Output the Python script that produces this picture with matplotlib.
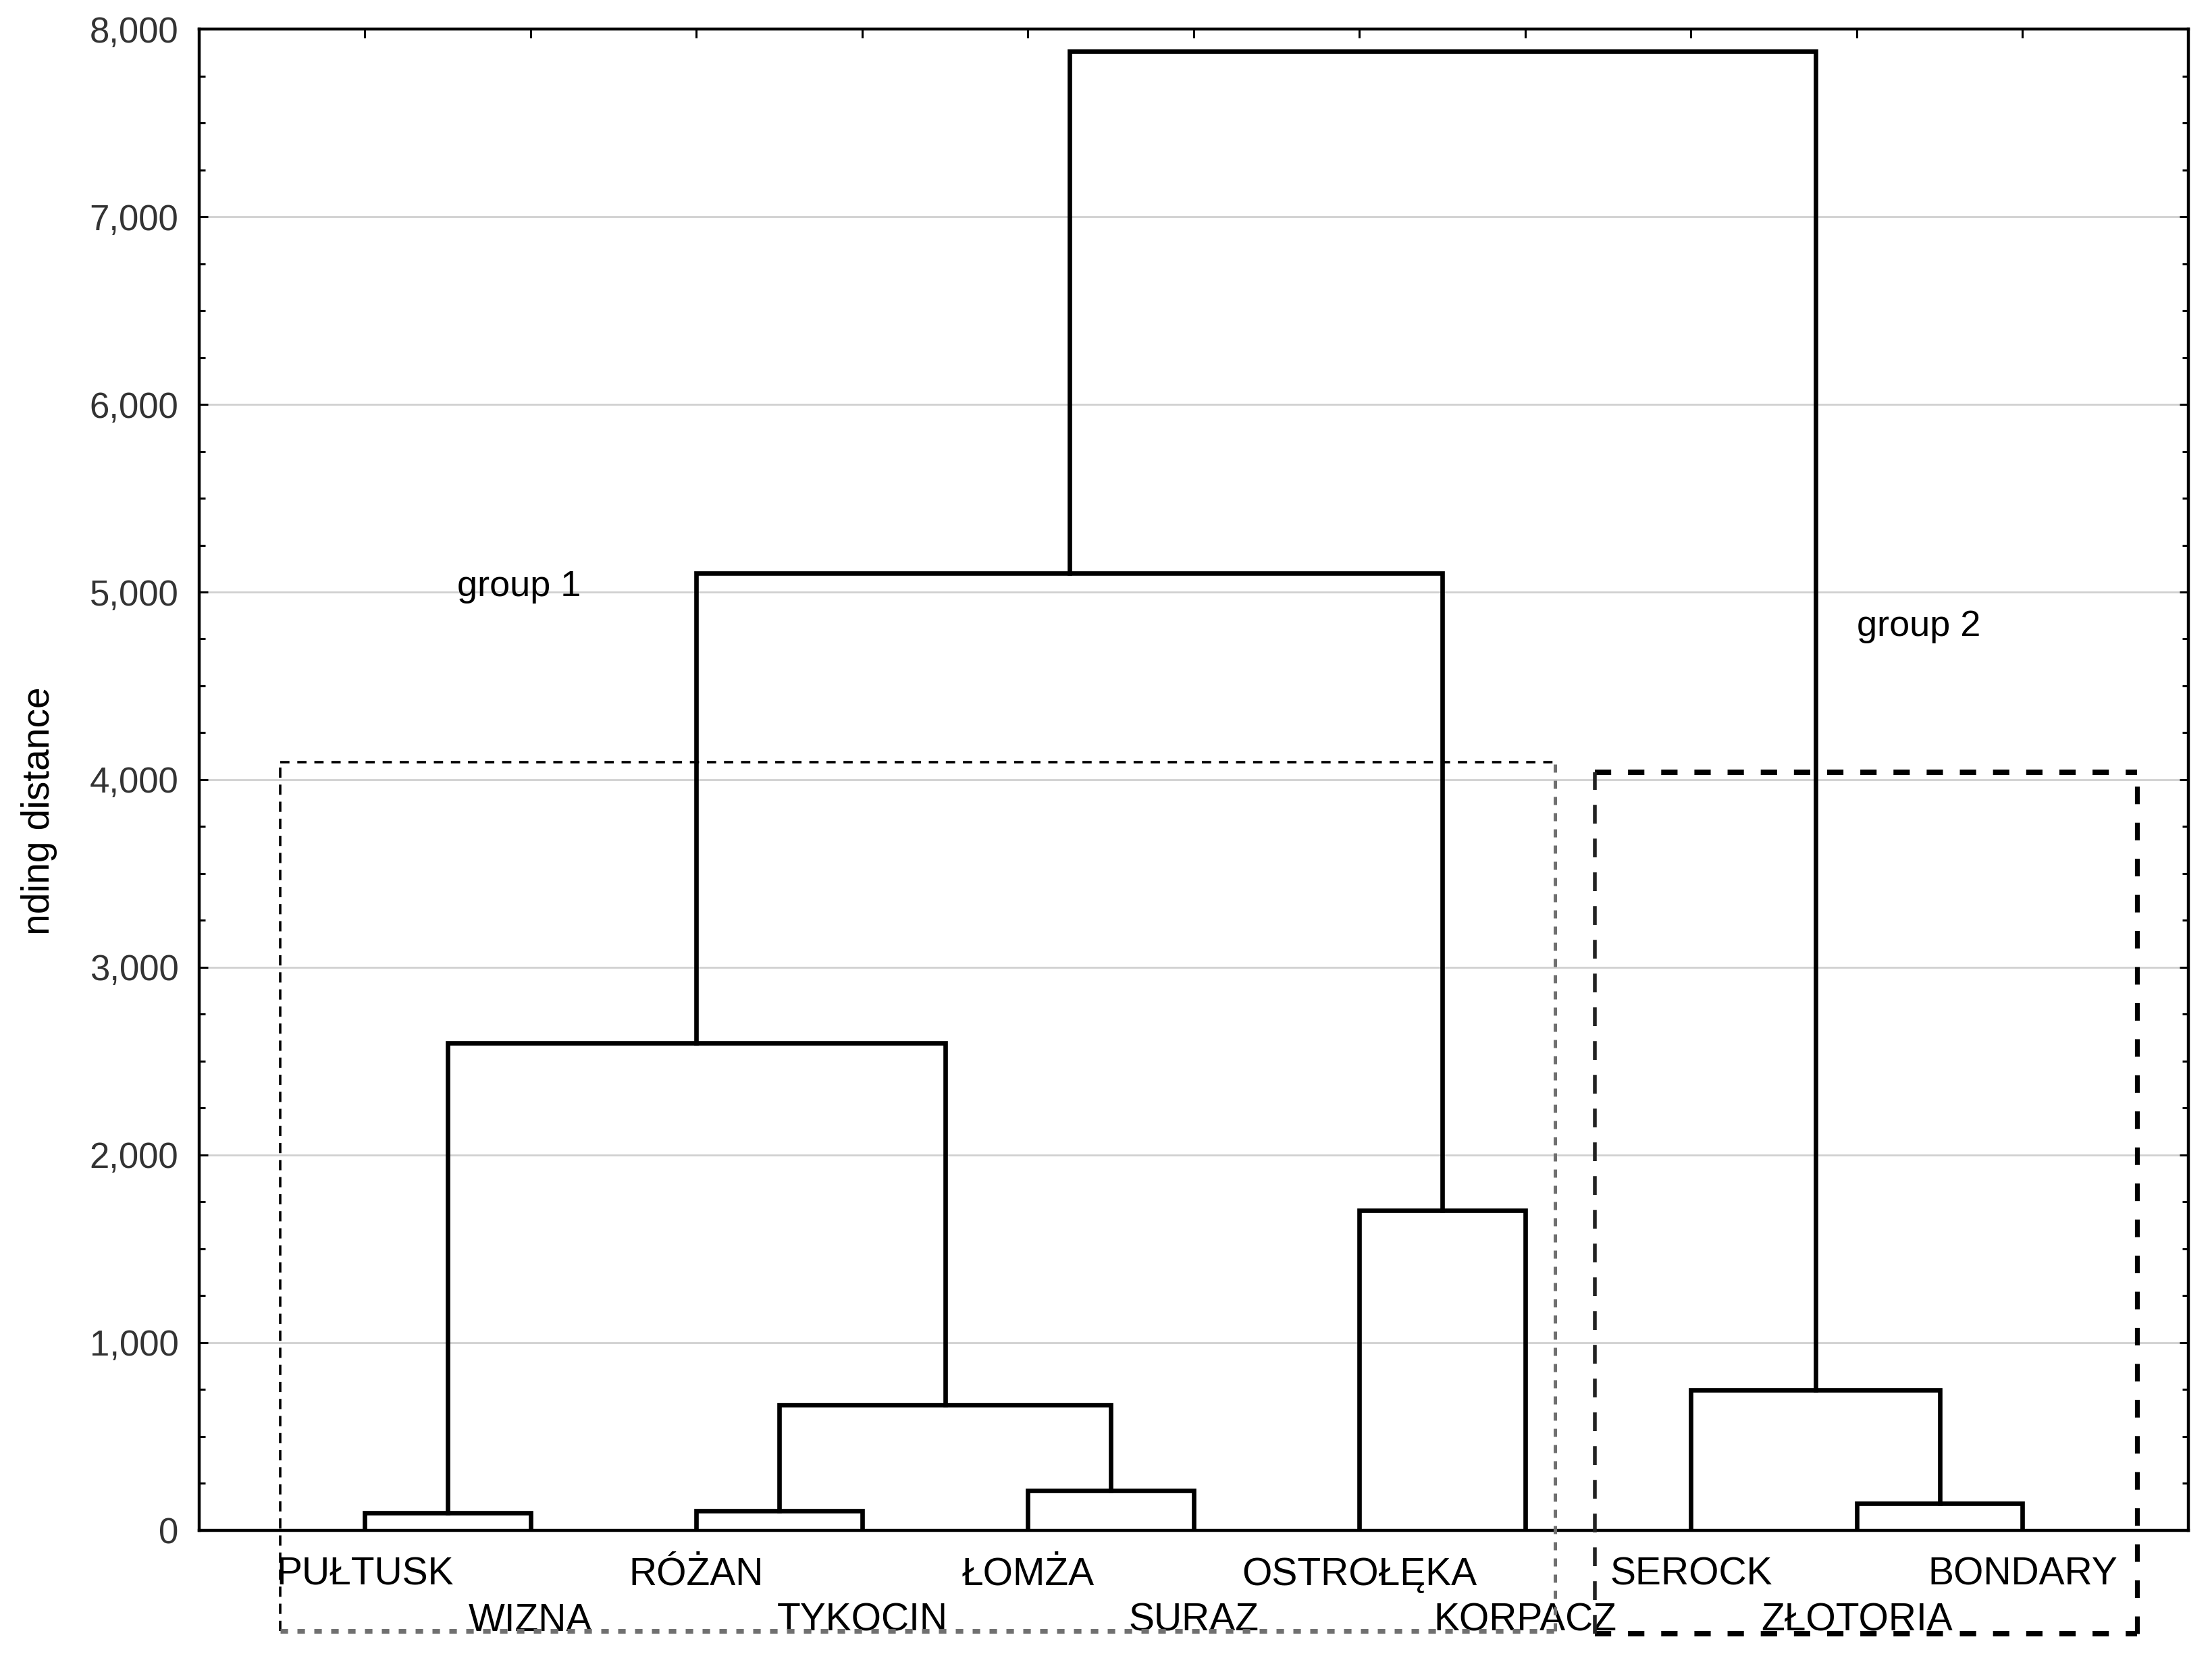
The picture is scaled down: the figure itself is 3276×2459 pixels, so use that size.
import matplotlib
matplotlib.use("Agg")
import matplotlib.pyplot as plt
from matplotlib.ticker import MultipleLocator, FuncFormatter
import matplotlib.transforms as mtransforms

plt.rcParams['font.family'] = ['Liberation Sans', 'DejaVu Sans']

# ---- data ----
leaves = ['PUŁTUSK', 'WIZNA', 'RÓŻAN', 'TYKOCIN', 'ŁOMŻA', 'SURAZ',
          'OSTROŁĘKA', 'KORPACZ', 'SEROCK', 'ZŁOTORIA', 'BONDARY']
# merges: (left node, right node, linkage height); new nodes numbered from 11
merge_left = [0, 2, 4, 12, 11, 6, 15, 9, 8, 17]
merge_right = [1, 3, 5, 13, 14, 7, 16, 10, 18, 19]
merge_height = [95, 105, 212, 670, 2597, 1705, 5100, 144, 748, 7880]

group_labels = ['group 1', 'group 2']
group_label_x = [1.557, 10.0]
group_label_y = [4978, 4766]

y_ticks = [0, 1000, 2000, 3000, 4000, 5000, 6000, 7000, 8000]
y_label = 'nding distance'

# ---- figure ----
fig = plt.figure(figsize=(16.38, 12.295), dpi=200)
ax = fig.add_axes([0.0900, 0.0781, 0.8993, 0.9044])

n = len(leaves)
xpos = {i: i + 1 for i in range(n)}
ypos = {i: 0.0 for i in range(n)}
lw_link = 2.4
for k, (a, b, h) in enumerate(zip(merge_left, merge_right, merge_height)):
    node = n + k
    xa, xb = xpos[a], xpos[b]
    ax.plot([xa, xa, xb, xb], [ypos[a], h, h, ypos[b]], color='black',
            lw=lw_link, solid_joinstyle='miter', solid_capstyle='projecting', zorder=3)
    xpos[node] = (xa + xb) / 2.0
    ypos[node] = h

ax.set_xlim(0, 12)
ax.set_ylim(0, 8000)
ax.set_yticks(y_ticks)
ax.yaxis.set_minor_locator(MultipleLocator(250))
ax.yaxis.set_major_formatter(FuncFormatter(lambda v, p: f'{v:,.0f}'))
ax.set_xticks(range(1, n + 1))
ax.set_xticklabels([])
ax.grid(axis='y', which='major', color='#d0d0d0', lw=1.0, zorder=0)
ax.set_axisbelow(True)
ax.tick_params(axis='y', which='major', direction='in', length=4.8, width=1.1,
               left=True, right=True, labelsize=19, labelcolor='#333333', pad=11)
ax.tick_params(axis='y', which='minor', direction='in', length=3.4, width=1.1,
               left=True, right=True)
ax.tick_params(axis='x', which='major', direction='in', length=4.8, width=1.1,
               top=True, bottom=True)
for s in ax.spines.values():
    s.set_linewidth(1.6)
    s.set_zorder(4)

# leaf labels, alternating rows
trans = mtransforms.blended_transform_factory(ax.transData, ax.transAxes)
for i, name in enumerate(leaves):
    yy = -0.0364 if i % 2 == 0 else -0.0670
    ax.text(i + 1, yy, name, transform=trans, ha='center', va='baseline',
            fontsize=20.5, color='black')

# group labels
for lab, gx, gy in zip(group_labels, group_label_x, group_label_y):
    ax.text(gx, gy, lab, ha='left', va='baseline', fontsize=19.5, color='black')

# y label
fig.text(0.0177, 0.5116, y_label, rotation=90, ha='center', va='center',
         fontsize=20.5, color='black')

# group boxes
def seg(x, y, **kw):
    ax.plot(x, y, clip_on=False, zorder=5, **kw)

g1 = dict(x0=0.49, x1=8.18, y0=-536, y1=4095)
g2 = dict(x0=8.42, x1=11.69, y0=-550, y1=4040)

# group 1: thin dashed black top/left, gray dashed right, gray dotted bottom
seg([g1['x0'], g1['x1']], [g1['y1'], g1['y1']], color='black', lw=1.3, dashes=(3.8, 3.2))
seg([g1['x0'], g1['x0']], [g1['y0'], g1['y1']], color='black', lw=1.3, dashes=(4.2, 2.8))
seg([g1['x1'], g1['x1']], [g1['y0'], g1['y1']], color='#707070', lw=1.8, dashes=(2.4, 2.4))
seg([g1['x0'], g1['x1']], [g1['y0'], g1['y0']], color='#707070', lw=2.5, dashes=(1.6, 2.0))

# group 2: thick black dotted top/bottom, dark dashed left, thick dashed right
seg([g2['x0'], g2['x1']], [g2['y1'], g2['y1']], color='black', lw=2.9, dashes=(3.0, 3.1))
seg([g2['x0'], g2['x1']], [g2['y0'], g2['y0']], color='black', lw=2.9, dashes=(3.0, 3.1))
seg([g2['x0'], g2['x0']], [g2['y0'], g2['y1']], color='#222222', lw=2.0, dashes=(5.0, 4.0))
seg([g2['x1'], g2['x1']], [g2['y0'], g2['y1']], color='black', lw=2.6, dashes=(3.6, 3.8))

fig.savefig('out.png', dpi=200, facecolor='white')
